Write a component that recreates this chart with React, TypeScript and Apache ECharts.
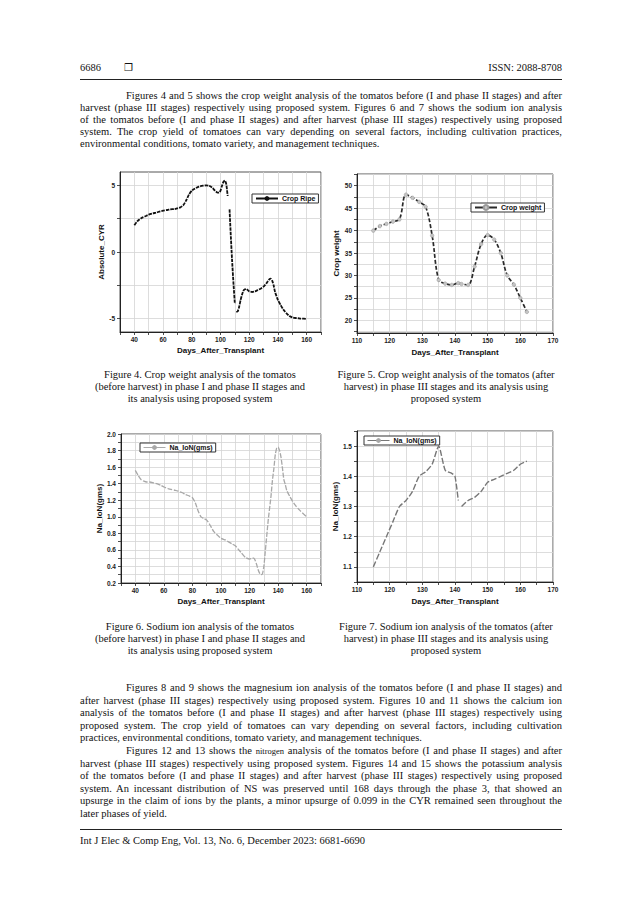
import React, { useEffect, useRef } from "react";
import * as echarts from "echarts";

// ---------- Figure 4: Crop Ripe (Absolute_CYR) ----------
const fig4Days = [40, 42, 45, 48, 50, 53, 55, 58, 60, 63, 65, 68, 70, 72, 74, 76, 78, 80, 82, 85, 88, 90, 92, 94, 96, 98, 99, 100, 101, 102, 103, 104, 105, 105.7, 106.3, 107, 108, 109, 110, 110.5, 111, 112, 113, 114, 115, 116, 117, 118, 120, 122, 124, 126, 128, 130, 132, 134, 135, 136, 137, 138, 140, 142, 144, 146, 148, 150, 152, 154, 156, 158, 160];
const fig4Cyr = [2.0, 2.3, 2.55, 2.7, 2.8, 2.9, 2.95, 3.05, 3.1, 3.15, 3.2, 3.22, 3.28, 3.35, 3.5, 3.85, 4.3, 4.6, 4.75, 4.9, 4.97, 5.0, 4.97, 4.85, 4.62, 4.45, 4.45, 4.6, 4.95, 5.25, 5.35, 5.1, 4.2, null, 3.2, 1.6, -0.5, -2.3, -3.9, null, -4.5, -4.45, -4.1, -3.6, -3.2, -2.9, -2.8, -2.78, -2.95, -3.0, -2.95, -2.85, -2.75, -2.6, -2.35, -2.05, -2.0, -2.15, -2.5, -3.0, -3.6, -4.0, -4.35, -4.6, -4.8, -4.9, -4.95, -4.97, -5.0, -5.0, -5.02];

// ---------- Figure 5: Crop weight ----------
const fig5Days = [115, 117, 119, 121, 123, 125, 127, 129, 131, 133, 135, 137, 139, 141, 142, 144, 146, 148, 150, 152, 154, 156, 158, 160, 162];
const fig5Weight = [40, 41, 41.5, 42, 42.5, 48, 47.3, 46.4, 45.3, 38.9, 29, 28.2, 27.9, 28.3, 28.1, 27.9, 32, 37, 39, 38, 35, 30, 28, 25, 21.9];

// ---------- Figure 6: Na_IoN(gms), phase I & II ----------
const fig6Days = [40, 42, 44, 46, 48, 50, 53, 55, 58, 60, 63, 65, 68, 70, 73, 75, 78, 80, 82, 84, 86, 88, 90, 92, 95, 98, 100, 103, 105, 108, 110, 112, 114, 117, 120, 122, 123, 124, 125, 126, 127, 128, 129, 130, 131, 133, 135, 136, 137, 138, 139, 140, 141, 142, 143, 144, 145, 146, 148, 150, 152, 155, 158, 160];
const fig6Na = [1.56, 1.5, 1.45, 1.43, 1.42, 1.42, 1.41, 1.4, 1.38, 1.36, 1.34, 1.33, 1.32, 1.31, 1.29, 1.27, 1.25, 1.23, 1.17, 1.07, 1.0, 0.98, 0.96, 0.91, 0.82, 0.77, 0.74, 0.72, 0.7, 0.67, 0.65, 0.61, 0.57, 0.51, 0.49, 0.5, 0.5, 0.47, 0.42, 0.36, 0.32, 0.3, 0.31, 0.4, 0.58, 0.95, 1.25, 1.44, 1.58, 1.75, 1.83, 1.84, 1.8, 1.72, 1.59, 1.45, 1.39, 1.32, 1.25, 1.19, 1.14, 1.08, 1.03, 1.0];

// ---------- Figure 7: Na_IoN(gms), phase III ----------
const fig7Days = [115, 117, 119, 121, 123, 125, 127, 129, 131, 133, 135, 137, 139, 140, 141, 141.5, 142, 144, 146, 148, 150, 152, 154, 156, 158, 160, 162];
const fig7Na = [1.1, 1.15, 1.2, 1.25, 1.3, 1.32, 1.35, 1.4, 1.415, 1.44, 1.5, 1.42, 1.41, 1.4, 1.32, null, 1.3, 1.32, 1.33, 1.35, 1.38, 1.39, 1.4, 1.41, 1.42, 1.44, 1.45];

// ---------- tick labels ----------
const fig4YTicks = [-5, -2.5, 0, 2.5, 5];
const fig4YLabels = [-5, 0, 5];
const fig5YTicks = [17.5, 20, 22.5, 25, 27.5, 30, 32.5, 35, 37.5, 40, 42.5, 45, 47.5, 50, 52.5];
const fig5YLabels = [20, 25, 30, 35, 40, 45, 50];

const AXIS_FONT = '"Liberation Sans", Arial, sans-serif';
const SERIF = '"Liberation Serif", "Times New Roman", serif';

const zip = (xs: number[], ys: (number | null)[]) => xs.map((x, i) => [x, ys[i]]);

const labelStyle = { fontFamily: AXIS_FONT, fontWeight: "bold", fontSize: 6.5, color: "#222" };
const nameStyle = { fontFamily: AXIS_FONT, fontWeight: "bold", fontSize: 8, color: "#111" };
const gridLine = { show: true, lineStyle: { color: "#d4d4d4", width: 0.8 } };

function xAxis(gridIndex: number, min: number, max: number, interval: number, fmt: (v: number) => string, gap: number) {
  return {
    type: "value", gridIndex, min, max, interval,
    name: "Days_After_Transplant", nameLocation: "middle", nameGap: gap, nameTextStyle: nameStyle,
    axisLine: { show: true, onZero: false, lineStyle: { color: "#222", width: 1 } },
    axisTick: { show: true, length: 3, lineStyle: { color: "#222", width: 0.8 } },
    axisLabel: { ...labelStyle, margin: 4, formatter: fmt, showMinLabel: true, showMaxLabel: true },
    splitLine: gridLine,
  };
}

function yAxis(gridIndex: number, name: string, min: number, max: number, gap: number, extra: any) {
  return {
    type: "value", gridIndex, min, max,
    name, nameLocation: "middle", nameGap: gap, nameTextStyle: nameStyle,
    axisLine: { show: true, onZero: false, lineStyle: { color: "#222", width: 1 } },
    axisTick: { show: true, length: 3, lineStyle: { color: "#222", width: 0.8 }, ...(extra.tick || {}) },
    axisLabel: { ...labelStyle, margin: 5, showMinLabel: true, showMaxLabel: true, ...(extra.label || {}) },
    splitLine: gridLine,
    ...(extra.axis || {}),
  };
}

const every20 = (v: number) => {
  const r = Math.round(v);
  return r % 20 === 0 && r >= 40 && r <= 160 ? String(r) : "";
};
const every10 = (v: number) => {
  const r = Math.round(v);
  return r % 10 === 0 ? String(r) : "";
};

function Chart() {
  const ref = useRef<HTMLDivElement>(null);
  useEffect(() => {
    if (!ref.current) return;
    const chart = echarts.init(ref.current, undefined, { renderer: "svg" });
    const gridBase = { show: true, borderColor: "#555", borderWidth: 1, containLabel: false };
    const legendBase = {
      orient: "horizontal", borderColor: "#333", borderWidth: 1, backgroundColor: "#fff",
      padding: [1, 3, 1, 3], itemGap: 0, itemWidth: 22, itemHeight: 6,
      textStyle: { fontFamily: AXIS_FONT, fontWeight: "bold", fontSize: 7, color: "#111", padding: [0, 0, 0, -1] },
      selectedMode: false,
    };
    chart.setOption({
      animation: false,
      backgroundColor: "transparent",
      grid: [
        { ...gridBase, left: 120, top: 172, width: 201, height: 160 },
        { ...gridBase, left: 357, top: 174, width: 196, height: 159 },
        { ...gridBase, left: 121, top: 434, width: 200, height: 149 },
        { ...gridBase, left: 357, top: 431, width: 196, height: 151 },
      ],
      xAxis: [
        xAxis(0, 30, 170, 10, every20, 14),
        xAxis(1, 110, 170, 5, every10, 15),
        xAxis(2, 30, 170, 10, every20, 14),
        xAxis(3, 110, 170, 5, every10, 15),
      ],
      yAxis: [
        yAxis(0, "Absolute_CYR", -6, 6, 14, {
          tick: { customValues: fig4YTicks },
          label: { customValues: fig4YLabels, formatter: (v: number) => String(v) },
        }),
        yAxis(1, "Crop weight", 17.2, 52.6, 15, {
          tick: { customValues: fig5YTicks },
          label: { customValues: fig5YLabels, formatter: (v: number) => String(v) },
        }),
        yAxis(2, "Na_IoN(gms)", 0.2, 2.0, 16, {
          axis: { interval: 0.1 },
          label: { formatter: (v: number) => (Math.round(v * 10) % 2 === 0 ? v.toFixed(1) : "") },
        }),
        yAxis(3, "Na_IoN(gms)", 1.05, 1.55, 16, {
          axis: { interval: 0.05 },
          label: { formatter: (v: number) => (Math.round(v * 100) % 10 === 0 ? v.toFixed(1) : "") },
        }),
      ],
      legend: [
        { ...legendBase, left: 252, top: 194, data: [{ name: "Crop Ripe" }], lineStyle: { type: "solid", width: 2 } },
        { ...legendBase, left: 471, top: 203, data: [{ name: "Crop weight" }], lineStyle: { type: "solid", width: 2 } },
        { ...legendBase, left: 140, top: 443, data: [{ name: "Na_IoN(gms)" }], lineStyle: { type: "solid", width: 1, color: "#aaa" } },
        { ...legendBase, left: 364, top: 436, data: [{ name: "Na_IoN(gms)", lineStyle: { color: "#777" } }], lineStyle: { type: "solid", width: 1, color: "#777" } },
      ],
      series: [
        {
          type: "line", name: "Crop Ripe", xAxisIndex: 0, yAxisIndex: 0, data: zip(fig4Days, fig4Cyr),
          showSymbol: false, symbol: "none", smooth: 0.2, connectNulls: false,
          lineStyle: { color: "#111", width: 1.8, type: [3.5, 1] }, itemStyle: { color: "#111" },
        },
        {
          type: "line", name: "Crop weight", xAxisIndex: 1, yAxisIndex: 1, data: zip(fig5Days, fig5Weight),
          symbol: "circle", symbolSize: 3.6, smooth: 0.35,
          lineStyle: { color: "#2a2a2a", width: 1.7, type: [4, 2] },
          itemStyle: { color: "#c4c4c4", borderColor: "#999", borderWidth: 0.5 },
        },
        {
          type: "line", name: "Na_IoN(gms)", xAxisIndex: 2, yAxisIndex: 2, data: zip(fig6Days, fig6Na),
          symbol: "none", smooth: 0.2,
          lineStyle: { color: "#a8a8a8", width: 1.3, type: [5, 1.5] }, itemStyle: { color: "#a8a8a8" },
        },
        {
          type: "line", name: "Na_IoN(gms)", xAxisIndex: 3, yAxisIndex: 3, data: zip(fig7Days, fig7Na),
          symbol: "none", smooth: 0.2, connectNulls: false,
          lineStyle: { color: "#777", width: 1.4, type: [6, 2] }, itemStyle: { color: "#777" },
        },
      ],
    });
    return () => chart.dispose();
  }, []);
  return <div ref={ref} style={{ position: "absolute", left: 0, top: 0, width: 638, height: 902 }} />;
}

const para1 = [
  "Figures 4 and 5 shows the crop weight analysis of the tomatos before (I and phase II stages) and after",
  "harvest (phase III stages) respectively using proposed system. Figures 6 and 7 shows the sodium ion analysis",
  "of the tomatos before (I and phase II stages) and after harvest (phase III stages) respectively using proposed",
  "system. The crop yield of tomatoes can vary depending on several factors, including cultivation practices,",
  "environmental conditions, tomato variety, and management techniques.",
];
const para2 = [
  "Figures 8 and 9 shows the magnesium ion analysis of the tomatos before (I and phase II stages) and",
  "after harvest (phase III stages) respectively using proposed system. Figures 10 and 11 shows the calcium ion",
  "analysis of the tomatos before (I and phase II stages) and after harvest (phase III stages) respectively using",
  "proposed system. The crop yield of tomatoes can vary depending on several factors, including cultivation",
  "practices, environmental conditions, tomato variety, and management techniques.",
];
const para3 = [
  "Figures 12 and 13 shows the |nitrogen| analysis of the tomatos before (I and phase II stages) and after",
  "harvest (phase III stages) respectively using proposed system. Figures 14 and 15 shows the potassium analysis",
  "of the tomatos before (I and phase II stages) and after harvest (phase III stages) respectively using proposed",
  "system. An incessant distribution of NS was preserved until 168 days through the phase 3, that showed an",
  "upsurge in the claim of ions by the plants, a minor upsurge of 0.099 in the CYR remained seen throughout the",
  "later phases of yield.",
];
const cap4 = ["Figure 4. Crop weight analysis of the tomatos", "(before harvest) in phase I and phase II stages and", "its analysis using proposed system"];
const cap5 = ["Figure 5. Crop weight analysis of the tomatos (after", "harvest) in phase III stages and its analysis using", "proposed system"];
const cap6 = ["Figure 6. Sodium ion analysis of the tomatos", "(before harvest) in phase I and phase II stages and", "its analysis using proposed system"];
const cap7 = ["Figure 7. Sodium ion analysis of the tomatos (after", "harvest) in phase III stages and its analysis using", "proposed system"];

const FS = 10.5;
const LEFT = 80;
const WIDTH = 482;

function renderRich(t: string) {
  const parts = t.split("|");
  return parts.map((p, i) => (i % 2 === 1 ? <span key={i} style={{ fontSize: 8.5 }}>{p}</span> : <span key={i}>{p}</span>));
}

function Paragraph({ lines, top, step }: { lines: string[]; top: number; step: number }) {
  return (
    <>
      {lines.map((t, i) => {
        const last = i === lines.length - 1;
        const indent = i === 0 ? 46 : 0;
        return (
          <div key={i} style={{
            position: "absolute", left: LEFT + indent, width: WIDTH - indent, top: top + i * step - 6, height: 12,
            lineHeight: "12px", fontFamily: SERIF, fontSize: FS, color: "#111", whiteSpace: "nowrap",
            textAlign: last ? "left" : "justify", textAlignLast: last ? "left" : "justify",
          } as any}>{renderRich(t)}</div>
        );
      })}
    </>
  );
}

function Caption({ lines, cx, top }: { lines: string[]; cx: number; top: number }) {
  return (
    <>
      {lines.map((t, i) => (
        <div key={i} style={{
          position: "absolute", left: cx - 130, width: 260, top: top + i * 12 - 6, height: 12, lineHeight: "12px",
          fontFamily: SERIF, fontSize: FS, color: "#111", textAlign: "center", whiteSpace: "nowrap",
        }}>{t}</div>
      ))}
    </>
  );
}

export default function App() {
  return (
    <div style={{ position: "absolute", left: 0, top: 0, width: 638, height: 902, background: "#fff", overflow: "hidden" }}>
      <Chart />
      <div style={{ position: "absolute", left: LEFT, top: 62, lineHeight: "12px", fontFamily: SERIF, fontSize: FS, color: "#111" }}>6686</div>
      <div style={{ position: "absolute", left: 124, top: 62, lineHeight: "12px", fontFamily: '"DejaVu Sans", sans-serif', fontSize: 10, color: "#111" }}>❐</div>
      <div style={{ position: "absolute", left: LEFT, width: WIDTH, top: 62, lineHeight: "12px", fontFamily: SERIF, fontSize: FS, color: "#111", textAlign: "right" }}>ISSN: 2088-8708</div>
      <div style={{ position: "absolute", left: LEFT, width: WIDTH, top: 79, height: 1.3, background: "#222" }} />
      <Paragraph lines={para1} top={96} step={12} />
      <Caption lines={cap4} cx={200} top={375} />
      <Caption lines={cap5} cx={446} top={375} />
      <Caption lines={cap6} cx={200} top={627} />
      <Caption lines={cap7} cx={446} top={627} />
      <Paragraph lines={para2} top={688} step={12.6} />
      <Paragraph lines={para3} top={688 + 5 * 12.6} step={12.6} />
      <div style={{ position: "absolute", left: LEFT, width: WIDTH, top: 829, height: 1.3, background: "#222" }} />
      <div style={{ position: "absolute", left: LEFT, top: 835, lineHeight: "12px", fontFamily: SERIF, fontSize: FS, color: "#111" }}>Int J Elec &amp; Comp Eng, Vol. 13, No. 6, December 2023: 6681-6690</div>
    </div>
  );
}
